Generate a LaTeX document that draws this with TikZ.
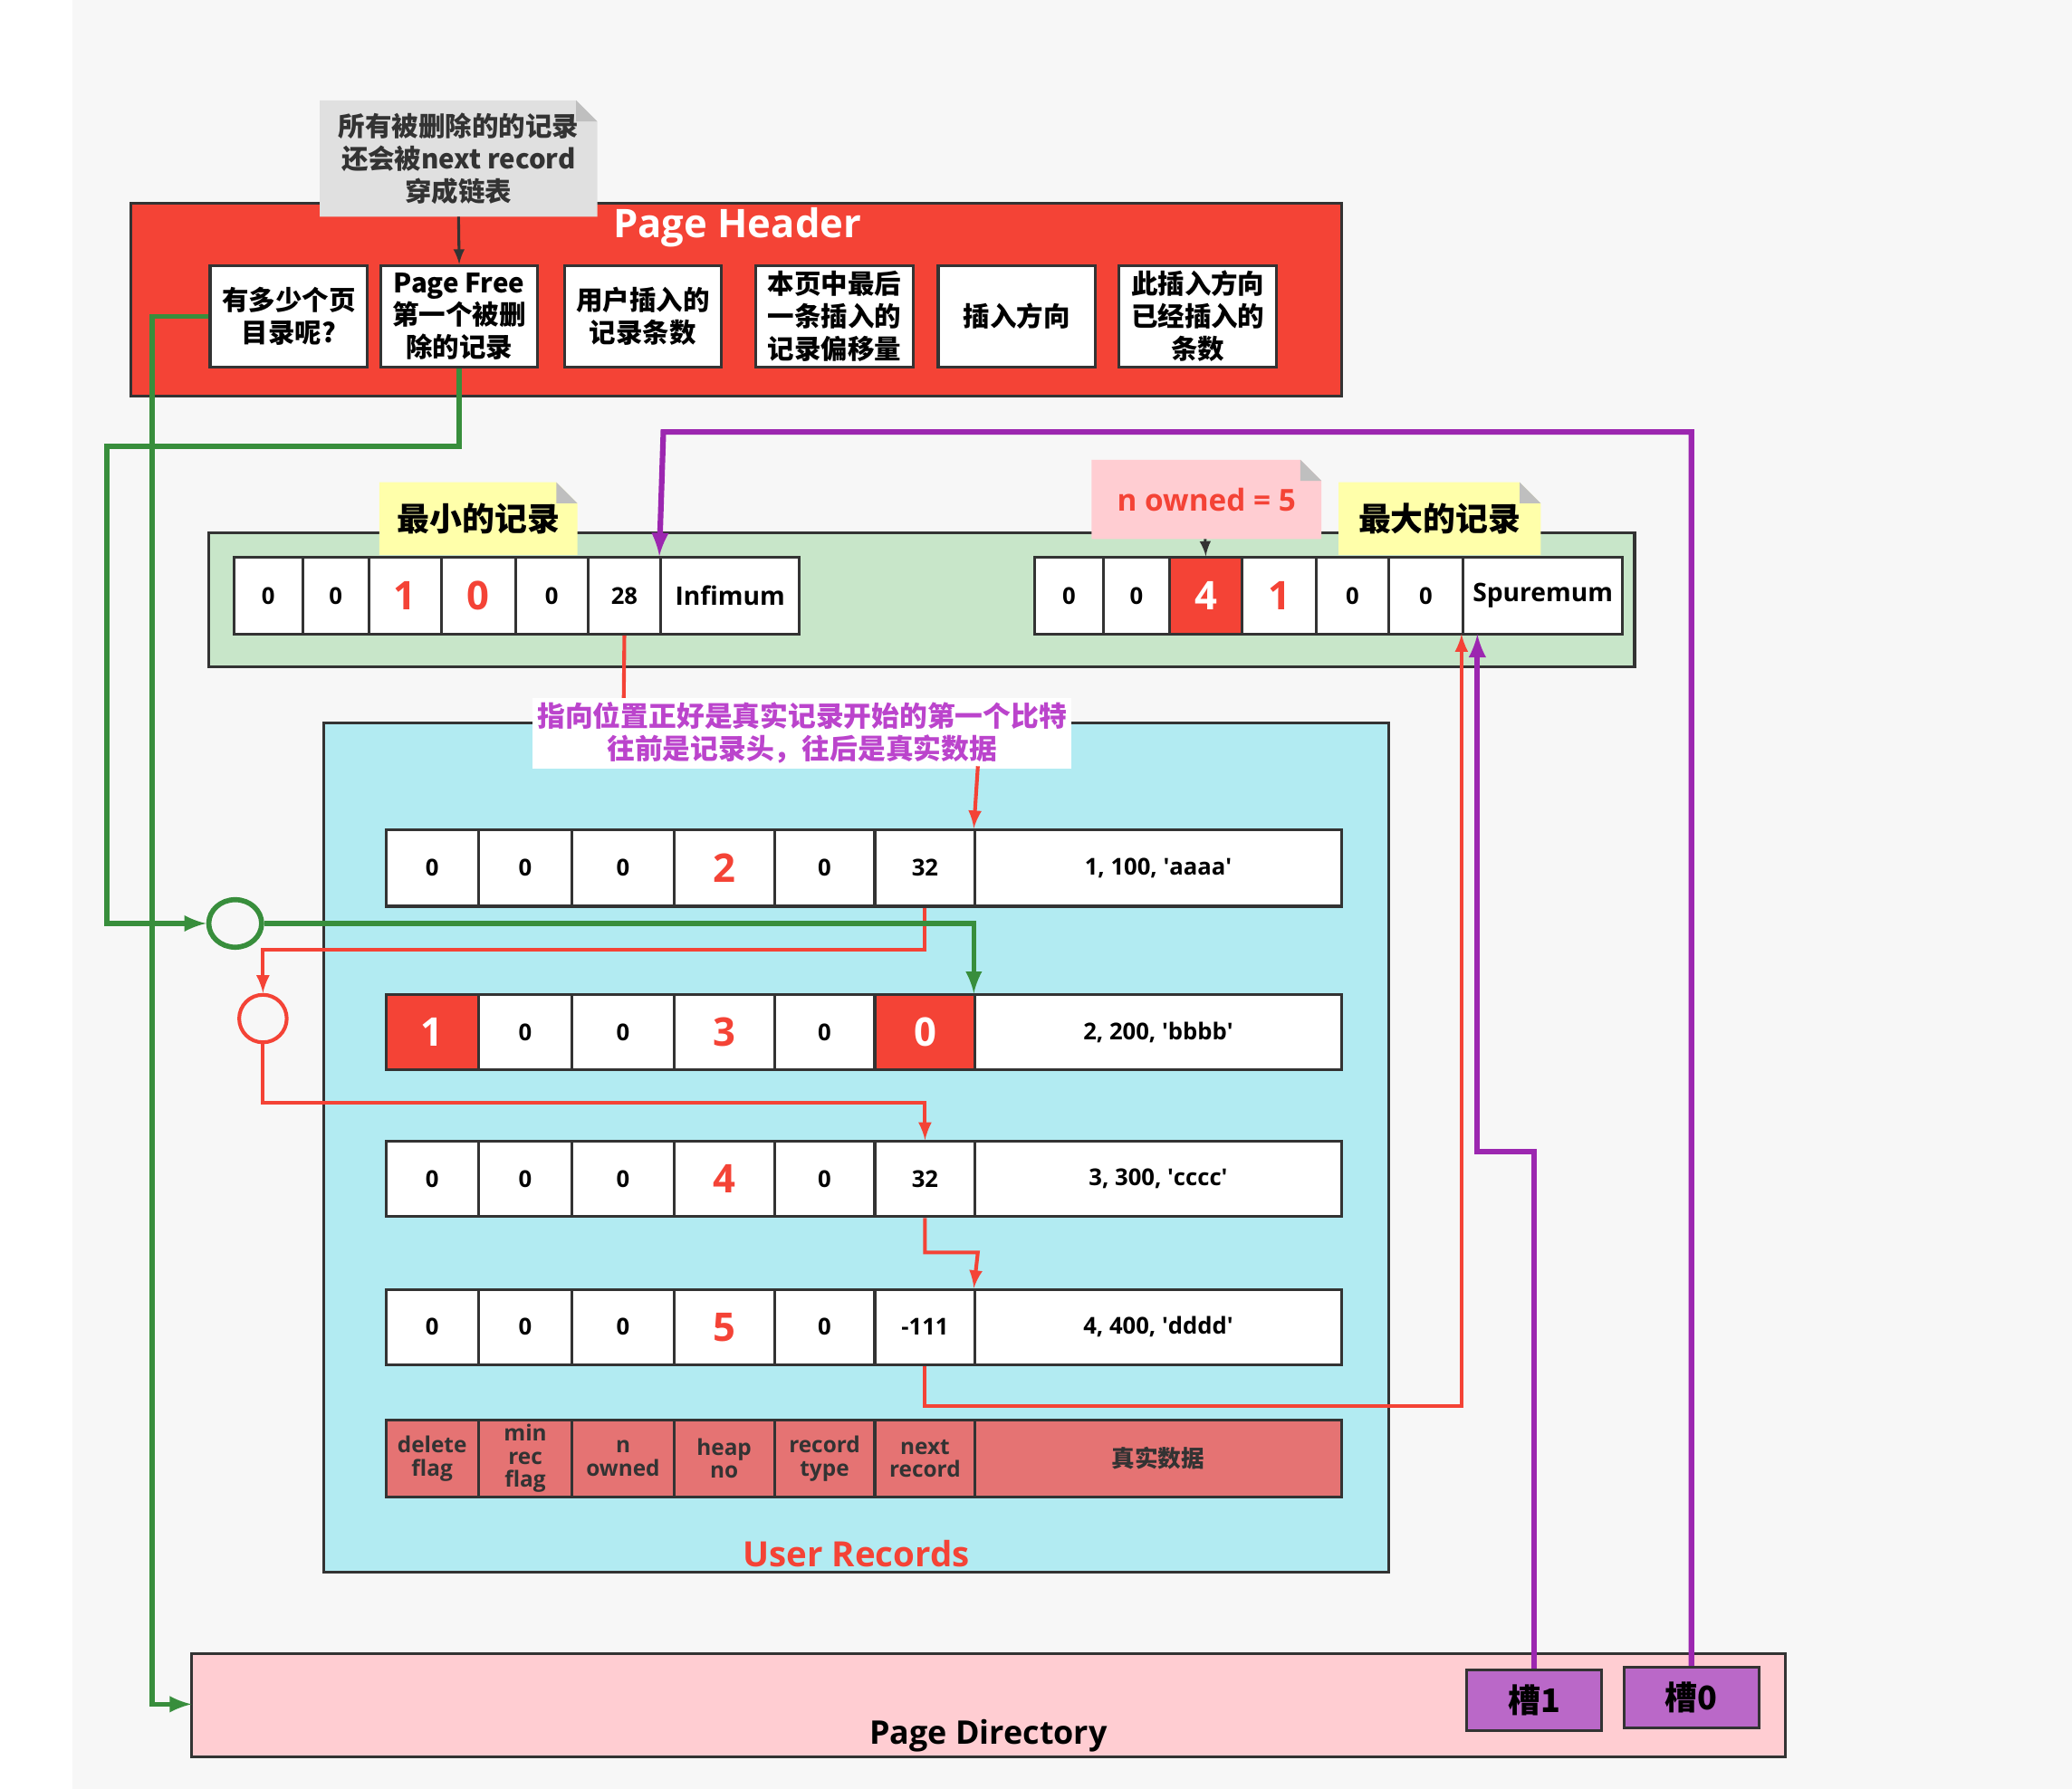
\documentclass[tikz,border=0pt]{standalone}
\usepackage{fontspec}
\setmainfont{Noto Sans CJK SC}
\newfontfamily\latinf{Open Sans}
\usetikzlibrary{fit,calc,shapes.geometric}
\definecolor{hdred}{RGB}{244,67,54}
\definecolor{lgreen}{RGB}{200,230,201}
\definecolor{lcyan}{RGB}{178,235,242}
\definecolor{lpink}{RGB}{255,205,210}
\definecolor{lyellow}{RGB}{255,255,170}
\definecolor{lgray}{RGB}{224,224,224}
\definecolor{legred}{RGB}{229,115,115}
\definecolor{lnkgreen}{RGB}{56,142,60}
\definecolor{lnkpurple}{RGB}{156,39,176}
\definecolor{slotpurple}{RGB}{186,104,200}
\definecolor{notepurple}{RGB}{187,68,204}
\newcommand\cell[7][]{\node[cellbox,fit={(#3,#4)(#5,#6)},#1] (#2) {};
  \node[celltext,#1,draw=none,fill=none] at (#2.center) {#7};}
\newcommand\note[6]{% fill, x1, y1, x2, y2, name
  \fill[#1] (#2,#3) -- (#4-16,#3) -- (#4,#3+16) -- (#4,#5) -- (#2,#5) -- cycle;
  \fill[black!25] (#4-16,#3) -- (#4,#3+16) -- (#4-16,#3+16) -- cycle;
  \coordinate (#6) at ($(#2,#3)!0.5!(#4,#5)$);}
\newcommand\q{\textquotesingle}
\begin{document}
\begin{tikzpicture}[x=0.02cm,y=-0.02cm,
    cellbox/.style={draw=black!80,line width=1.2pt,fill=white,inner sep=0pt},
    celltext/.style={align=center,inner sep=0pt,font=\latinf\bfseries\fontsize{10}{12}\selectfont},
    big/.style={font=\latinf\bfseries\fontsize{17}{20}\selectfont,text=hdred},
    bigfill/.style={font=\latinf\bfseries\fontsize{17}{20}\selectfont,fill=hdred,text=white},
    hdcell/.style={font=\bfseries\fontsize{11.5}{14}\selectfont},
    legcell/.style={fill=legred,font=\latinf\bfseries\fontsize{9.5}{10}\selectfont,text=black!80},
    region/.style={draw=black!80,line width=1.2pt},
    redlink/.style={draw=hdred,line width=1.6pt,-latex},
    greenlink/.style={draw=lnkgreen,line width=2.2pt,-latex},
    purplelink/.style={draw=lnkpurple,line width=2.4pt,-latex}]
\useasboundingbox (0,0) rectangle (1568,1354);
\fill[white] (0,0) rectangle (1568,1354);
\fill[black!3] (55,0) rectangle (1568,1354);

% page header
\draw[region,fill=hdred] (99,154) rectangle (1015,300);
\node[text=white,font=\latinf\bfseries\fontsize{17}{20}\selectfont] (phtitle) at (558,172) {Page Header};
\note{lgray}{242}{76}{452}{164}{freenote}
\node[font=\bfseries\fontsize{11.5}{14}\selectfont,align=center,text=black!80] at (freenote) {所有被删除的的记录\\还会被next record\\穿成链表};
\cell[hdcell]{hslots}{159}{201}{278}{278}{有多少个页\\目录呢?}
\cell[hdcell]{hfree}{288}{201}{407}{278}{Page Free\\第一个被删\\除的记录}
\cell[hdcell]{hrecs}{427}{201}{546}{278}{用户插入的\\记录条数}
\cell[hdcell]{hlast}{572}{201}{691}{278}{本页中最后\\一条插入的\\记录偏移量}
\cell[hdcell]{hdir}{710}{201}{829}{278}{插入方向}
\cell[hdcell]{hndir}{847}{201}{966}{278}{此插入方向\\已经插入的\\条数}
\draw[-latex,line width=1.2pt,black!80] (347,164) -- (hfree.north);

% infimum / supremum
\draw[region,fill=lgreen] (158,403) rectangle (1237,505);
\note{lyellow}{287}{365}{437}{420}{minnote}
\node[font=\bfseries\fontsize{14}{16}\selectfont] at (minnote) {最小的记录};
\note{lyellow}{1013}{365}{1166}{420}{maxnote}
\node[font=\bfseries\fontsize{14}{16}\selectfont] at (maxnote) {最大的记录};
\note{lpink}{826}{348}{1000}{408}{ownnote}
\node[font=\latinf\bfseries\fontsize{13}{15}\selectfont,text=hdred] at (ownnote) {n owned = 5};
\cell{i1}{177}{422}{229}{480}{0}
\cell{i2}{229}{422}{279}{480}{0}
\cell[big]{i3}{279}{422}{334}{480}{1}
\cell[big]{i4}{334}{422}{390}{480}{0}
\cell{i5}{390}{422}{445}{480}{0}
\cell{i6}{445}{422}{500}{480}{28}
\cell[font=\latinf\bfseries\fontsize{11}{13}\selectfont]{inf}{500}{422}{605}{480}{Infimum}
\cell{s1}{783}{422}{835}{480}{0}
\cell{s2}{835}{422}{885}{480}{0}
\cell[bigfill]{s3}{885}{422}{940}{480}{4}
\cell[big]{s4}{940}{422}{996}{480}{1}
\cell{s5}{996}{422}{1051}{480}{0}
\cell{s6}{1051}{422}{1107}{480}{0}
\cell[font=\latinf\bfseries\fontsize{11}{13}\selectfont]{sup}{1107}{422}{1228}{480}{Spuremum}
\draw[-latex,line width=1.2pt,black!80] (912,408) -- (s3.north);

% user records
\draw[region,fill=lcyan] (245,547) rectangle (1051,1190);
\node[text=hdred,font=\latinf\bfseries\fontsize{15}{18}\selectfont] (urtitle) at (648,1176) {User Records};
\cell{r11}{292}{628}{362}{686}{0}
\cell{r12}{362}{628}{433}{686}{0}
\cell{r13}{433}{628}{510}{686}{0}
\cell[big]{r14}{510}{628}{586}{686}{2}
\cell{r15}{586}{628}{662}{686}{0}
\cell{r16}{662}{628}{738}{686}{32}
\cell{r17}{738}{628}{1015}{686}{1, 100, \q aaaa\q}
\cell[bigfill]{r21}{292}{753}{362}{810}{1}
\cell{r22}{362}{753}{433}{810}{0}
\cell{r23}{433}{753}{510}{810}{0}
\cell[big]{r24}{510}{753}{586}{810}{3}
\cell{r25}{586}{753}{662}{810}{0}
\cell[bigfill]{r26}{662}{753}{738}{810}{0}
\cell{r27}{738}{753}{1015}{810}{2, 200, \q bbbb\q}
\cell{r31}{292}{864}{362}{921}{0}
\cell{r32}{362}{864}{433}{921}{0}
\cell{r33}{433}{864}{510}{921}{0}
\cell[big]{r34}{510}{864}{586}{921}{4}
\cell{r35}{586}{864}{662}{921}{0}
\cell{r36}{662}{864}{738}{921}{32}
\cell{r37}{738}{864}{1015}{921}{3, 300, \q cccc\q}
\cell{r41}{292}{976}{362}{1033}{0}
\cell{r42}{362}{976}{433}{1033}{0}
\cell{r43}{433}{976}{510}{1033}{0}
\cell[big]{r44}{510}{976}{586}{1033}{5}
\cell{r45}{586}{976}{662}{1033}{0}
\cell{r46}{662}{976}{738}{1033}{-111}
\cell{r47}{738}{976}{1015}{1033}{4, 400, \q dddd\q}
\cell[legcell]{l1}{292}{1075}{362}{1133}{delete\\flag}
\cell[legcell]{l2}{362}{1075}{433}{1133}{min\\rec\\flag}
\cell[legcell]{l3}{433}{1075}{510}{1133}{n\\owned}
\cell[legcell]{l4}{510}{1075}{586}{1133}{heap\\no}
\cell[legcell]{l5}{586}{1075}{662}{1133}{record\\type}
\cell[legcell]{l6}{662}{1075}{738}{1133}{next\\record}
\cell[legcell,font=\bfseries\fontsize{10}{12}\selectfont]{l7}{738}{1075}{1015}{1133}{真实数据}

% page directory
\draw[region,fill=lpink] (145,1252) rectangle (1351,1330);
\node[font=\latinf\bfseries\fontsize{14}{16}\selectfont] (pdtitle) at (748,1314) {Page Directory};
\cell[fill=slotpurple,font=\bfseries\fontsize{14}{16}\selectfont]{slot1}{1110}{1264}{1212}{1310}{槽1}
\cell[fill=slotpurple,font=\bfseries\fontsize{14}{16}\selectfont]{slot0}{1229}{1262}{1331}{1308}{槽0}

% red next-record chain
\draw[hdred,line width=1.6pt] (i6.south) -- (472,530);
\node[fill=white,inner sep=2pt,text=notepurple,align=center,
  font=\bfseries\fontsize{12}{14}\selectfont,minimum width=7.8cm] (ptrnote) at (607,555)
  {指向位置正好是真实记录开始的第一个比特\\往前是记录头，往后是真实数据};
\draw[redlink] (740,580) -- (r17.north west);
\node[draw=hdred,line width=1.6pt,circle,minimum size=0.72cm,inner sep=0pt] (redc) at (199,771) {};
\draw[redlink] (r16.south) -- ++(0,32) -| (redc.north);
\draw[redlink] (redc.south) |- (700,835) -- (r36.north);
\draw[redlink] (r36.south) |- (740,948) -- (r47.north west);
\draw[redlink] (r46.south) |- (1106,1064) -- (1106,480);

% green free list
\node[draw=lnkgreen,line width=2.2pt,ellipse,minimum width=0.8cm,minimum height=0.72cm,inner sep=0pt] (greenc) at (178,699) {};
\draw[greenlink] (hfree.south) |- (81,338) |- (greenc.west);
\draw[greenlink] (greenc.east) -| (r27.north west);
\draw[greenlink] (hslots.west) -| (115,1290) -- (145,1290);

% purple slots
\draw[purplelink] (slot0.north) |- (502,327) -- (inf.north west);
\draw[purplelink] (slot1.north) |- (1118,872) -- (1118,480);
\end{tikzpicture}
\end{document}
